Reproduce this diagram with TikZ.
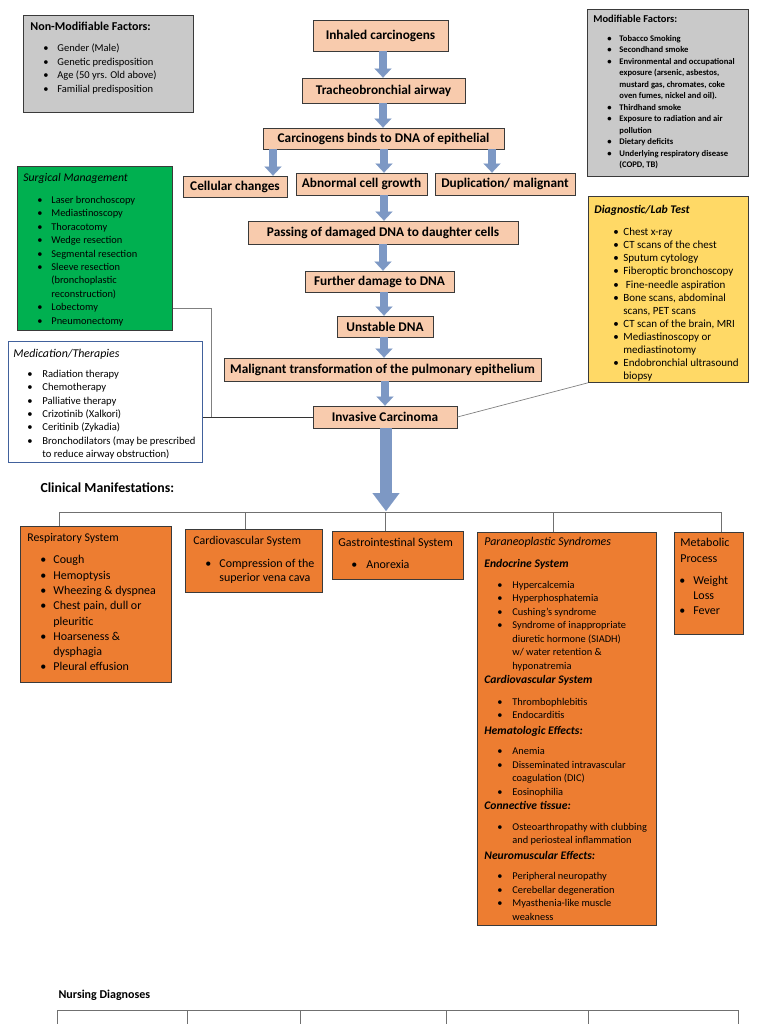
\documentclass[tikz,border=0pt]{standalone}
\usepackage{fontspec}
\setmainfont{Carlito}
\usetikzlibrary{arrows.meta}
\usetikzlibrary{positioning}

\definecolor{cPeach}{HTML}{F8CBAD}
\definecolor{cOrange}{HTML}{ED7D31}
\definecolor{cGreen}{HTML}{00B050}
\definecolor{cGrey}{HTML}{C9C9C9}
\definecolor{cYellow}{HTML}{FFD966}
\definecolor{cArrow}{HTML}{7D98C4}
\definecolor{cEdge}{HTML}{3A3A3A}
\definecolor{cBlue}{HTML}{41619C}
\definecolor{cLine}{HTML}{707070}

\newlength\padx
\newlength\bulx
\newlength\txtx
\newcommand\boxsetup[3]{\setlength\padx{#1}\setlength\bulx{#2}\setlength\txtx{#3}\raggedright}
\newcommand\hd[1]{\par\noindent\hspace*{\padx}#1\par}
\newcommand\itm[1]{\par\noindent\hangindent=\txtx\hangafter=1\hspace*{\bulx}%
  \makebox[\dimexpr\txtx-\bulx\relax][l]{\textbullet}#1\par}

\begin{document}
\begin{tikzpicture}[x=1pt, y=-1pt,
      flowbox/.style={draw=cEdge, fill=cPeach, line width=0.8pt, inner sep=0pt,
        font=\fontsize{13.3}{15}\selectfont\bfseries},
      listbox/.style={draw=cEdge, line width=0.8pt, inner sep=0pt, anchor=north west},
      flowarrow/.style={draw=cArrow, line width=8pt,
        -{Triangle[length=9pt, width=17pt, line width=0.1pt]}},
      bigarrow/.style={draw=cArrow, line width=12pt,
        -{Triangle[length=18pt, width=27pt, line width=0.1pt]}},
      link/.style={draw=cLine, line width=0.7pt}]

    \useasboundingbox (0,0) rectangle (768,1024);

    % main chain
    \node[flowbox, minimum width=135pt, minimum height=31pt]
      (Inhaled) at (380.5,35.5) {Inhaled carcinogens};
    \node[flowbox, minimum width=163pt, minimum height=25pt]
      (Trachea) at (383.5,90.5) {Tracheobronchial airway};
    \node[flowbox, minimum width=241pt, minimum height=21pt]
      (Binds) at (383.5,138.5) {Carcinogens binds to DNA of epithelial};
    \node[flowbox, minimum width=104pt, minimum height=21pt]
      (Cellular) at (235,186.5) {Cellular changes};
    \node[flowbox, minimum width=131pt, minimum height=22pt]
      (Abnormal) at (361.5,184) {Abnormal cell growth};
    \node[flowbox, minimum width=140pt, minimum height=22pt]
      (Duplication) at (505,184) {Duplication/ malignant};
    \node[flowbox, minimum width=270pt, minimum height=23pt]
      (Passing) at (383,232.5) {Passing of damaged DNA to daughter cells};
    \node[flowbox, minimum width=149pt, minimum height=21pt]
      (Further) at (379.5,281.5) {Further damage to DNA};
    \node[flowbox, minimum width=96pt, minimum height=21pt]
      (Unstable) at (385,326.5) {Unstable DNA};
    \node[flowbox, minimum width=317pt, minimum height=23pt]
      (Malignant) at (382.5,369.5) {Malignant transformation of the pulmonary epithelium};
    \node[flowbox, minimum width=144pt, minimum height=22pt]
      (Invasive) at (385,417) {Invasive Carcinoma};

    \draw[flowarrow] (Inhaled.south -| 383,0) -- (Trachea.north -| 383,0);
    \draw[flowarrow] (Trachea.south -| 383,0) -- (Binds.north -| 383,0);
    \draw[flowarrow] (Binds.south -| 273,0) -- (Cellular.north -| 273,0);
    \draw[flowarrow] (Binds.south -| 384,0) -- (Abnormal.north -| 384,0);
    \draw[flowarrow] (Binds.south -| 492,0) -- (Duplication.north -| 492,0);
    \draw[flowarrow] (Abnormal.south -| 384,0) -- (Passing.north -| 384,0);
    \draw[flowarrow] (Passing.south -| 383,0) -- (Further.north -| 383,0);
    \draw[flowarrow] (Further.south -| 384,0) -- (Unstable.north -| 384,0);
    \draw[flowarrow] (Unstable.south -| 384,0) -- (Malignant.north -| 384,0);
    \draw[flowarrow] (Malignant.south -| 385,0) -- (Invasive.north -| 385,0);

    % risk factors
    \node[listbox, fill=cGrey] (NonModifiable) at (23,15) {\parbox[t][97pt][t]{170pt}{%
      \boxsetup{7pt}{20pt}{34pt}\vspace*{6.2pt}%
      {\fontsize{12}{14}\selectfont\bfseries\hd{Non-Modifiable Factors:}}
      \fontsize{10.5}{13.5}\selectfont\vspace{8.1pt}
      \itm{Gender (Male)}
      \itm{Genetic predisposition}
      \itm{Age (50 yrs. Old above)}
      \itm{Familial predisposition}}};
    \node[listbox, fill=cGrey] (Modifiable) at (587,9) {\parbox[t][167pt][t]{161pt}{%
      \boxsetup{6pt}{20pt}{32pt}\vspace*{5.7pt}%
      {\fontsize{10.5}{12}\selectfont\bfseries\hd{Modifiable Factors:}}
      \fontsize{8.6}{11.5}\selectfont\bfseries\vspace{7.1pt}
      \itm{Tobacco Smoking}
      \itm{Secondhand smoke}
      \itm{Environmental and occupational\newline exposure (arsenic, asbestos,\newline
        mustard gas, chromates, coke\newline oven fumes, nickel and oil).}
      \itm{Thirdhand smoke}
      \itm{Exposure to radiation and air\newline pollution}
      \itm{Dietary deficits}
      \itm{Underlying respiratory disease\newline (COPD, TB)}}};

    % management boxes
    \node[listbox, fill=cGreen] (Surgical) at (17,166) {\parbox[t][164pt][t]{155pt}{%
      \boxsetup{6pt}{20pt}{34pt}\vspace*{7.3pt}%
      {\fontsize{11.7}{13}\selectfont\itshape\hd{Surgical Management}}
      \fontsize{10.4}{13.4}\selectfont\vspace{8.3pt}
      \itm{Laser bronchoscopy}
      \itm{Mediastinoscopy}
      \itm{Thoracotomy}
      \itm{Wedge resection}
      \itm{Segmental resection}
      \itm{Sleeve resection\newline (bronchoplastic\newline reconstruction)}
      \itm{Lobectomy}
      \itm{Pneumonectomy}}};
    \node[listbox, draw=cBlue, fill=white] (Medication) at (8,341) {\parbox[t][121pt][t]{194pt}{%
      \boxsetup{5pt}{19pt}{34pt}\vspace*{8.2pt}%
      {\fontsize{11.9}{13}\selectfont\itshape\hd{Medication/Therapies}}
      \fontsize{10.6}{13.3}\selectfont\vspace{6.4pt}
      \itm{Radiation therapy}
      \itm{Chemotherapy}
      \itm{Palliative therapy}
      \itm{Crizotinib (Xalkori)}
      \itm{Ceritinib (Zykadia)}
      \itm{Bronchodilators (may be prescribed\newline to reduce airway obstruction)}}};
    \node[listbox, fill=cYellow] (Diagnostic) at (588,196) {\parbox[t][186pt][t]{160pt}{%
      \boxsetup{6pt}{25pt}{35pt}\vspace*{9.3pt}%
      {\fontsize{11.7}{13}\selectfont\bfseries\itshape\hd{Diagnostic/Lab Test}}
      \fontsize{11}{13.1}\selectfont\vspace{8.6pt}
      \itm{Chest x-ray}
      \itm{CT scans of the chest}
      \itm{Sputum cytology}
      \itm{Fiberoptic bronchoscopy}
      \itm{\ Fine-needle aspiration}
      \itm{Bone scans, abdominal\newline scans, PET scans}
      \itm{CT scan of the brain, MRI}
      \itm{Mediastinoscopy or\newline mediastinotomy}
      \itm{Endobronchial ultrasound\newline biopsy}}};

    \coordinate (SurgicalBend) at (211,417);
    \draw[link, draw=gray] (Surgical.east |- 0,308) -| (SurgicalBend);
    \draw[link, draw=black!80] (Invasive.west) -- (Invasive.west -| Medication.east);
    \draw[link, draw=gray] (Invasive.east) -- (Diagnostic.south west);

    % clinical manifestations
    \coordinate (ManifTip) at (386,511);
    \draw[bigarrow] (Invasive.south -| ManifTip) -- (ManifTip);
    \node[anchor=west, font=\fontsize{13.8}{15}\selectfont\bfseries]
      (ClinicalLabel) at (37,488) {Clinical Manifestations:};

    \node[listbox, fill=cOrange] (Respiratory) at (20,526) {\parbox[t][156pt][t]{151pt}{%
      \boxsetup{7pt}{20pt}{33pt}\vspace*{7.3pt}%
      {\fontsize{11.8}{13}\selectfont\hd{Respiratory System}}
      \fontsize{12}{15.3}\selectfont\vspace{6.7pt}
      \itm{Cough}
      \itm{Hemoptysis}
      \itm{Wheezing \& dyspnea}
      \itm{Chest pain, dull or\newline pleuritic}
      \itm{Hoarseness \&\newline dysphagia}
      \itm{Pleural effusion}}};
    \node[listbox, fill=cOrange] (Cardio) at (185,529) {\parbox[t][63pt][t]{137pt}{%
      \boxsetup{8pt}{20pt}{34pt}\vspace*{7.2pt}%
      {\fontsize{11.9}{13}\selectfont\hd{Cardiovascular System}}
      \fontsize{12}{14}\selectfont\vspace{9pt}
      \itm{Compression of the\newline superior vena cava}}};
    \node[listbox, fill=cOrange] (Gastro) at (332,531) {\parbox[t][48pt][t]{131pt}{%
      \boxsetup{6pt}{19pt}{34pt}\vspace*{7.2pt}%
      {\fontsize{12}{13}\selectfont\hd{Gastrointestinal System}}
      \fontsize{12}{14}\selectfont\vspace{8pt}
      \itm{Anorexia}}};
    \node[listbox, fill=cOrange] (Paraneoplastic) at (477,532) {\parbox[t][393pt][t]{179pt}{%
      \boxsetup{7pt}{20pt}{35pt}\vspace*{5.2pt}%
      {\fontsize{11.9}{13}\selectfont\itshape\hd{Paraneoplastic Syndromes}}
      \fontsize{10.4}{13.5}\selectfont
      {\fontsize{11.6}{21.9}\selectfont\bfseries\itshape\hd{Endocrine System}}\vspace{7.2pt}
      \itm{Hypercalcemia}
      \itm{Hyperphosphatemia}
      \itm{Cushing's syndrome}
      \itm{Syndrome of inappropriate\newline diuretic hormone (SIADH)\newline
        w/ water retention \&\newline hyponatremia}
      {\fontsize{11.6}{14.3}\selectfont\bfseries\itshape\hd{Cardiovascular System}}\vspace{8.2pt}
      \itm{Thrombophlebitis}
      \itm{Endocarditis}
      {\fontsize{11.6}{15.3}\selectfont\bfseries\itshape\hd{Hematologic Effects:}}\vspace{7.2pt}
      \itm{Anemia}
      \itm{Disseminated intravascular\newline coagulation (DIC)}
      \itm{Eosinophilia}
      {\fontsize{11.6}{14.3}\selectfont\bfseries\itshape\hd{Connective tissue:}}\vspace{7.2pt}
      \itm{Osteoarthropathy with clubbing\newline and periosteal inflammation}
      {\fontsize{11.6}{15.3}\selectfont\bfseries\itshape\hd{Neuromuscular Effects:}}\vspace{7.2pt}
      \itm{Peripheral neuropathy}
      \itm{Cerebellar degeneration}
      \itm{Myasthenia-like muscle\newline weakness}}};
    \node[listbox, fill=cOrange] (Metabolic) at (674,532) {\parbox[t][102pt][t]{69pt}{%
      \boxsetup{6pt}{5pt}{19pt}\vspace*{6.2pt}%
      {\fontsize{12}{16}\selectfont\hd{Metabolic}\hd{Process}}
      \fontsize{12}{15}\selectfont\vspace{7pt}
      \itm{Weight\newline Loss}
      \itm{Fever}}};

    \coordinate (BusLeft) at (59,512);
    \coordinate (BusRight) at (721,512);
    \draw[link] (BusLeft) -- (BusRight);
    \draw[link] (BusLeft) -- (BusLeft |- Respiratory.north);
    \draw[link] (245,512) -- (Cardio.north -| 245,0);
    \draw[link] (385,512) -- (Gastro.north -| 385,0);
    \draw[link] (553,512) -- (Paraneoplastic.north -| 553,0);
    \draw[link] (BusRight) -- (BusRight |- Metabolic.north);

    % nursing diagnoses
    \node[anchor=west, font=\fontsize{12}{14}\selectfont\bfseries]
      (NursingLabel) at (55,995) {Nursing Diagnoses};
    \draw[link] (57,1026) |- (738,1010) -- (738,1026);
    \foreach \x in {187,300,446,588}
      \draw[link] (\x,1010) -- (\x,1026);

  \end{tikzpicture}
\end{document}
